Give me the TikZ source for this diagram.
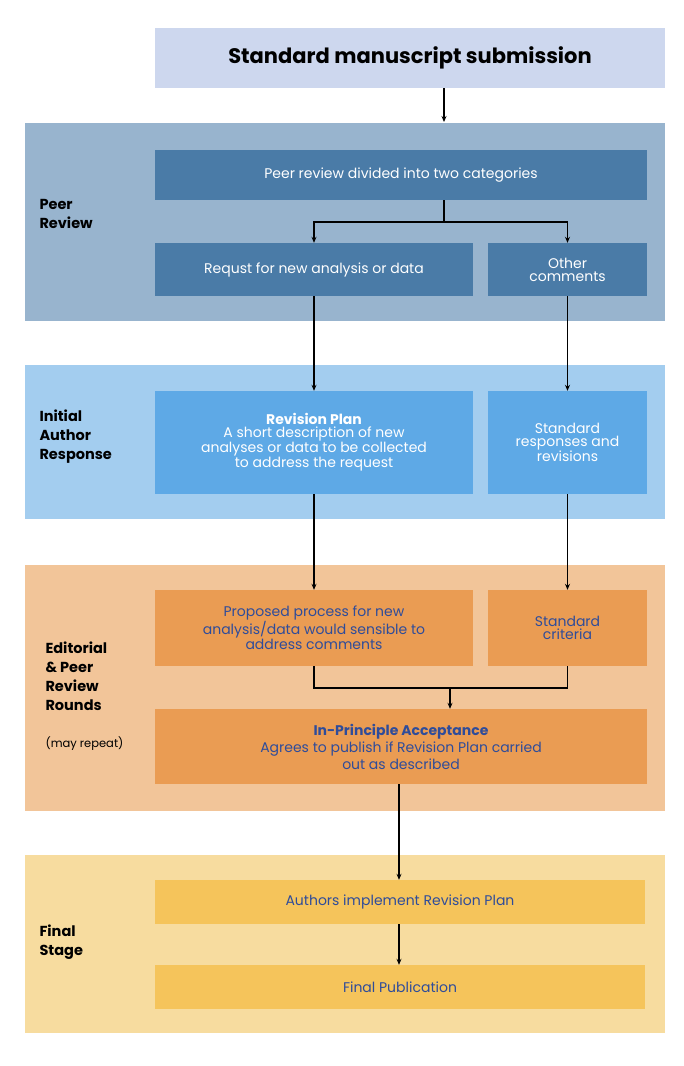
\documentclass[tikz,border=0pt]{standalone}
\usepackage{fontspec}
\setmainfont{Poppins}
\usetikzlibrary{arrows.meta}
\definecolor{topc}{HTML}{CDD7EE}
\definecolor{bandA}{HTML}{98B4CE}
\definecolor{boxA}{HTML}{4A7BA7}
\definecolor{bandB}{HTML}{A3CDEF}
\definecolor{boxB}{HTML}{5EA9E6}
\definecolor{bandC}{HTML}{F2C599}
\definecolor{boxC}{HTML}{EA9C53}
\definecolor{bandD}{HTML}{F7DC9F}
\definecolor{boxD}{HTML}{F5C45B}
\definecolor{txtC}{HTML}{2F4C9A}
\tikzset{
  box/.style={rectangle,inner sep=2pt,align=center,font=\fontsize{14}{13}\selectfont},
  arr/.style={-{Stealth[length=6pt,width=5pt]},line width=1.2pt},
  lab/.style={anchor=west,align=left,font=\fontsize{14.5}{19}\selectfont\bfseries}
}
\begin{document}
\begin{tikzpicture}[x=1pt,y=-1pt]
\useasboundingbox (0,0) rectangle (684,1066);
% bands
\foreach \ya/\yb/\col in {123/321/bandA,365/519/bandB,565/811/bandC,855/1033/bandD}{\fill[\col](25,\ya)rectangle(665,\yb);}
\node[lab] at (36,214) {Peer\\Review};
\node[lab] at (36,437) {Initial\\Author\\Response};
\node[lab] at (42,676) {Editorial\\\& Peer\\Review\\Rounds};
\node[anchor=west,font=\fontsize{11.5}{13}\selectfont] at (42,744) {(may repeat)};
\node[lab] at (36,942) {Final\\Stage};
% boxes
\node[box,fill=topc,minimum width=510,minimum height=60,font=\fontsize{21}{24}\selectfont\bfseries] (sm) at (410,58) {Standard manuscript submission};
\node[box,fill=boxA,text=white,minimum width=492,minimum height=50] (pr) at (401,175) {Peer review divided into two categories};
\node[box,fill=boxA,text=white,minimum width=318,minimum height=53] (rq) at (314,269.5) {Requst for new analysis or data};
\node[box,fill=boxA,text=white,minimum width=159,minimum height=53] (oc) at (567.5,269.5) {Other\\comments};
\node[box,fill=boxB,text=white,minimum width=318,minimum height=103] (rp) at (314,442.5) {{\bfseries Revision Plan}\\A short description of new\\analyses or data to be collected\\to address the request};
\node[box,fill=boxB,text=white,minimum width=159,minimum height=103] (sr) at (567.5,442.5) {Standard\\responses and\\revisions};
\node[box,fill=boxC,text=txtC,minimum width=318,minimum height=76] (pp) at (314,628) {Proposed process for new\\analysis/data would sensible to\\address comments};
\node[box,fill=boxC,text=txtC,minimum width=159,minimum height=76] (sc) at (567.5,628) {Standard\\criteria};
\node[box,fill=boxC,text=txtC,minimum width=492,minimum height=75,font=\fontsize{14}{17}\selectfont] (ia) at (401,746.5) {{\bfseries In-Principle Acceptance}\\Agrees to publish if Revision Plan carried\\out as described};
\node[box,fill=boxD,text=txtC,minimum width=490,minimum height=44] (ai) at (400,902) {Authors implement Revision Plan};
\node[box,fill=boxD,text=txtC,minimum width=490,minimum height=44] (fp) at (400,987) {Final Publication};
% connectors
\draw[arr] (sm.south -| 444,0) -- (444,122);
\draw[line width=1.2pt] (pr.south -| 444,0) -- (444,222) coordinate (sp);
\draw[arr] (sp) -| (rq.north);
\draw[arr] (sp) -| (oc.north);
\draw[arr] (rq) ++(0,26.5) -- (rp.north);
\draw[arr] (oc.south) -- (sr.north);
\draw[arr] (rp.south) -- (pp.north);
\draw[arr] (sr.south) -- (sc.north);
\draw[line width=1.2pt] (pp.south) |- (450,688) coordinate (jn) -| (sc.south);
\draw[arr] (jn) -- (ia.north -| jn);
\draw[arr] (ia.south -| 399,0) -- (ai.north -| 399,0);
\draw[arr] (ai.south -| 399,0) -- (fp.north -| 399,0);
\end{tikzpicture}
\end{document}
